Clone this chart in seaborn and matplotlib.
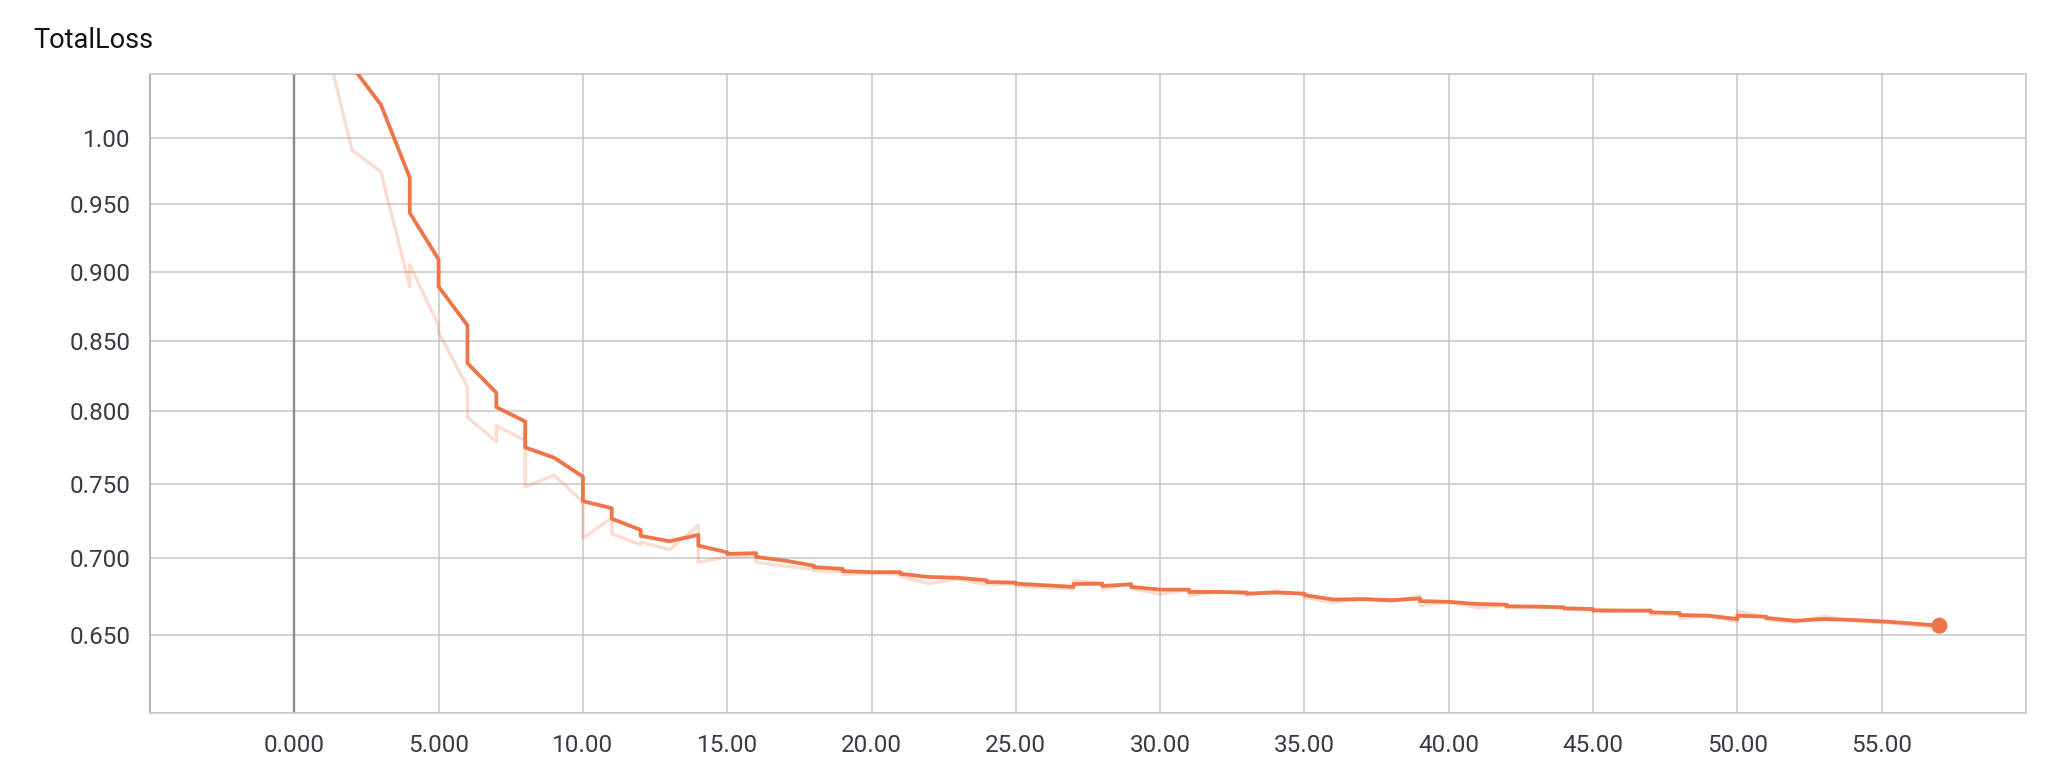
import numpy as np
import pandas as pd
import seaborn as sns
import matplotlib.pyplot as plt

# TotalLoss scalar: raw values and smoothed values per step (some steps logged twice)
steps = [1, 2, 3, 4, 4, 5, 5, 6, 6, 7, 7, 8, 8, 9, 10, 10, 11, 11, 12, 12, 13, 14, 14,
         15, 15, 16, 16, 17, 18, 18, 19, 19, 20, 21, 21, 22, 23, 24, 24, 25, 25, 26,
         27, 27, 28, 28, 29, 29, 30, 31, 31, 32, 33, 33, 34, 35, 35, 36, 37, 38, 39, 39,
         40, 41, 42, 42, 43, 44, 44, 45, 45, 46, 47, 47, 48, 48, 49, 50, 50, 51, 51, 52,
         53, 54, 55, 56, 57]
raw_loss = [1.083, 0.991, 0.9745, 0.889, 0.905, 0.861, 0.856, 0.817, 0.796, 0.779, 0.790,
            0.780, 0.748, 0.756, 0.738, 0.7135, 0.727, 0.7165, 0.709, 0.711, 0.7058, 0.722,
            0.6975, 0.701, 0.701, 0.7015, 0.6974, 0.695, 0.6925, 0.692, 0.691, 0.6895,
            0.690, 0.6895, 0.688, 0.6833, 0.6864, 0.6826, 0.6825, 0.6834, 0.682, 0.6806,
            0.680, 0.6855, 0.6836, 0.6795, 0.6836, 0.680, 0.6765, 0.6794, 0.6757, 0.6779,
            0.677, 0.6757, 0.6787, 0.676, 0.6741, 0.671, 0.6735, 0.6715, 0.6755, 0.669,
            0.6712, 0.6675, 0.669, 0.6675, 0.668, 0.6675, 0.6665, 0.6662, 0.6648, 0.6655,
            0.6657, 0.6630, 0.6635, 0.6605, 0.662, 0.6585, 0.6655, 0.6612, 0.6598, 0.658,
            0.662, 0.659, 0.658, 0.6565, 0.6548]
smooth_loss = [1.100, 1.056, 1.026, 0.970, 0.9435, 0.909, 0.889, 0.861, 0.834, 0.813, 0.803,
               0.793, 0.775, 0.768, 0.755, 0.7383, 0.7336, 0.7265, 0.719, 0.715, 0.7114,
               0.7157, 0.7085, 0.704, 0.703, 0.7035, 0.701, 0.6985, 0.6952, 0.6942, 0.6931,
               0.6916, 0.6909, 0.6909, 0.6898, 0.6877, 0.6872, 0.6855, 0.6844, 0.684, 0.6833,
               0.6823, 0.6812, 0.6831, 0.6833, 0.6818, 0.6829, 0.6812, 0.6794, 0.6794,
               0.6779, 0.6779, 0.6775, 0.6768, 0.6775, 0.6768, 0.6758, 0.6729, 0.6732,
               0.6725, 0.6736, 0.6719, 0.6714, 0.670, 0.6696, 0.6685, 0.6683, 0.6678,
               0.6672, 0.6667, 0.6659, 0.6657, 0.6657, 0.6646, 0.6641, 0.6628, 0.6624,
               0.6602, 0.6624, 0.6617, 0.6609, 0.6591, 0.6602, 0.6596, 0.6587, 0.6574,
               0.6559]

x_ticks = [-5, 0, 5, 10, 15, 20, 25, 30, 35, 40, 45, 50, 55, 60]
x_labels = ["", "0.000", "5.000", "10.00", "15.00", "20.00", "25.00", "30.00", "35.00",
            "40.00", "45.00", "50.00", "55.00", ""]
y_ticks = [0.60, 0.65, 0.70, 0.75, 0.80, 0.85, 0.90, 0.95, 1.00, 1.05]
y_labels = ["", "0.650", "0.700", "0.750", "0.800", "0.850", "0.900", "0.950", "1.00", ""]

ORANGE = "#ee7549"
GRID = "#c9c9c9"
PX = 0.72  # points per pixel at dpi 100

df = pd.DataFrame({"step": steps, "raw": raw_loss, "smooth": smooth_loss})

sns.set_style("white")
plt.rcParams["font.family"] = ["Roboto", "DejaVu Sans"]

W, H = 2050, 762
fig = plt.figure(figsize=(W / 100, H / 100), dpi=100)
ax = fig.add_axes([150 / W, 1 - 713.3 / H, (2026 - 150) / W, (713.3 - 74) / H])

# the y axis is slightly compressed towards the top
ax.set_yscale("function", functions=(lambda y: np.log(y + 1.2), lambda v: np.exp(v) - 1.2))

ax.axvline(0, color="#8e8e8e", lw=2.4 * PX, zorder=1)
sns.lineplot(data=df, x="step", y="raw", estimator=None, sort=False, color=ORANGE,
             alpha=0.25, lw=3.4 * PX, ax=ax, zorder=2)
sns.lineplot(data=df, x="step", y="smooth", estimator=None, sort=False, color=ORANGE,
             lw=3.8 * PX, ax=ax, zorder=3)
sns.scatterplot(x=[steps[-1]], y=[smooth_loss[-1]], color=ORANGE, s=(16 * PX) ** 2,
                edgecolor="none", ax=ax, zorder=4, clip_on=False)

ax.set_xlim(-5, 60)
ax.set_ylim(0.60, 1.05)
ax.set_xticks(x_ticks)
ax.set_xticklabels(x_labels, fontweight="normal", color="#3a3a44")
ax.set_yticks(y_ticks)
ax.set_yticklabels(y_labels, fontweight="normal", color="#3a3a44")
ax.minorticks_off()
ax.set_xlabel("")
ax.set_ylabel("")

ax.grid(True, color=GRID, lw=1.6 * PX)
ax.set_axisbelow(True)
ax.tick_params(axis="both", length=10 * PX, width=1.6 * PX, color=GRID, labelsize=17.5)
ax.tick_params(axis="x", pad=8)
ax.tick_params(axis="y", pad=7)
for side in ["top", "right", "bottom"]:
    ax.spines[side].set_color(GRID)
    ax.spines[side].set_linewidth(1.6 * PX)
ax.spines["left"].set_color("#aaaaaa")
ax.spines["left"].set_linewidth(1.6 * PX)

fig.text(33 / W, 1 - 47.7 / H, "TotalLoss", fontsize=19.5, ha="left", va="baseline",
         color="#111111")

fig.savefig("out.png", dpi=100)
